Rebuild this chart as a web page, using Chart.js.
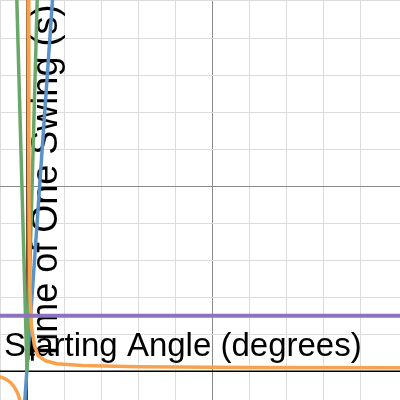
<!DOCTYPE html>
<html><head><style>html,body{margin:0;padding:0;background:#fff}#w{width:400px;height:400px}</style>
<script src="https://cdn.jsdelivr.net/npm/chart.js"></script></head>
<body><div id="w"><canvas id="c"></canvas></div>
<script>
const xTitle = "Starting Angle (degrees)";
const yTitle = "Time of One Swing (s)";
const purpleY = 1.5;
const orangeLeftX = [-0.75, -0.6, -0.45, -0.35, -0.25, -0.19];
const orangeLeftY = [-0.15, -0.2, -0.3, -0.42, -0.6, -0.8];
const orangeRightX = [0.03, 0.05, 0.08, 0.12, 0.2, 0.3, 0.5, 0.8, 1.5, 3, 6, 10.2];
const orangeRightY = [10.2, 5, 2.2, 1.2, 0.7, 0.42, 0.28, 0.2, 0.15, 0.12, 0.1, 0.09];
const greenX = [-0.28, 0, 0.28];
const greenY = [10.2, 0, 10.2];
const blueX = [-0.06, 0.7];
const blueY = [-0.8, 10.2];
const brownX = [0.03, 0.03];
const brownY = [0.3, 10.2];
const pts=(xs,ys)=>xs.map((x,i)=>({x,y:ys[i]}));
const ds=(d,c,w)=>({data:d,borderColor:c,borderWidth:w||3,showLine:true,pointRadius:0});
const textPlug={id:'t',beforeDatasetsDraw(ch){const c=ch.ctx;c.save();c.fillStyle='#000';
c.textBaseline='middle';c.font='33px Arial, "Liberation Sans"';c.fillText(xTitle,4,347);
c.font='36px Arial, "Liberation Sans"';
c.translate(47,183);c.rotate(-Math.PI/2);c.textAlign='center';c.fillText(yTitle,0,0);c.restore();}};
const axPlug={id:'a',beforeDatasetsDraw(ch){const c=ch.ctx,x=ch.scales.x,y=ch.scales.y;c.save();c.strokeStyle='#000';c.lineWidth=1.5;
c.beginPath();c.moveTo(x.getPixelForValue(0),0);c.lineTo(x.getPixelForValue(0),400);c.moveTo(0,y.getPixelForValue(0));c.lineTo(400,y.getPixelForValue(0));c.stroke();c.restore();}};
const gc=ctx=>ctx.tick.value%5===0?'#8a8a8a':'#dcdcdc';
new Chart(document.getElementById('c'),{type:'scatter',
data:{datasets:[
ds([{x:-1,y:purpleY},{x:11,y:purpleY}],'#8e72c0',4),
ds(pts(orangeLeftX,orangeLeftY),'#f7a24f',3.5),
ds(pts(orangeRightX,orangeRightY),'#f7a24f',3.5),
ds(pts(greenX,greenY),'#6aa86a',3.5),
ds(pts(brownX,brownY),'#c0540f',3),
ds(pts(blueX,blueY),'#5b93c9',3.5),
ds([{x:0,y:0},{x:-0.05,y:-0.8}],'#1f3c6e',1.5)]},
options:{animation:false,responsive:true,maintainAspectRatio:false,layout:{padding:0},
plugins:{legend:{display:false},tooltip:{enabled:false}},
scales:{x:{type:'linear',min:-0.73,max:10.08,ticks:{display:false,stepSize:1},border:{display:false},grid:{color:gc,drawTicks:false}},
y:{type:'linear',min:-0.78,max:10.03,ticks:{display:false,stepSize:1},border:{display:false},grid:{color:gc,drawTicks:false}}}},
plugins:[textPlug,axPlug]});
</script></body></html>
